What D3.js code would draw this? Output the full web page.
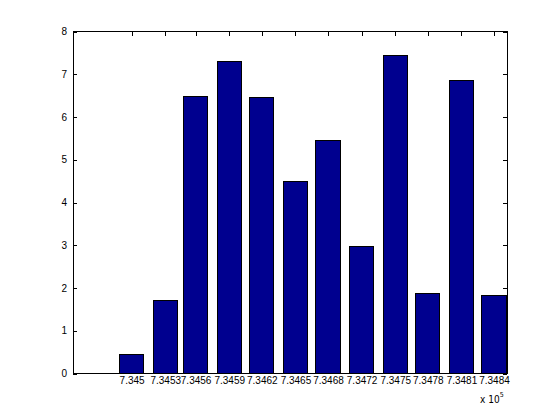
<!DOCTYPE html>
<html>
<head>
<meta charset="utf-8">
<script src="https://cdn.jsdelivr.net/npm/d3@7"></script>
<style>
  html, body { margin: 0; padding: 0; background: #fff; }
  svg { display: block; font-family: "Liberation Sans Narrow", "DejaVu Sans Condensed", "Liberation Sans", Arial, sans-serif; }
  .axis text { font-size: 10px; fill: #000; }
  .axis path { display: none; }
  .axis line { stroke: #000; shape-rendering: crispEdges; }
</style>
</head>
<body>
<div id="chart"></div>
<script>
// monthly datenums (1st of each month, 2011) and bar heights
const monthDates = [734504, 734535, 734563, 734594, 734624, 734655, 734685, 734716, 734747, 734777, 734808, 734838];
const counts = [0.44, 1.70, 6.49, 7.30, 6.46, 4.50, 5.46, 2.96, 7.45, 1.88, 6.86, 1.83];
const xTickLabels = [`7.345`, `7.3453`, `7.3456`, `7.3459`, `7.3462`, `7.3465`, `7.3468`, `7.3472`, `7.3475`, `7.3478`, `7.3481`, `7.3484`];
const yTicks = [0, 1, 2, 3, 4, 5, 6, 7, 8];
const xLimits = [734450, 734850];

const width = 560;
const height = 420;
const margin = {top: 31.5, right: 53, bottom: 46.5, left: 73};
const innerWidth = width - margin.left - margin.right;
const innerHeight = height - margin.top - margin.bottom;
const tickLen = 4;

const svg = d3.select(`#chart`)
  .append(`svg`)
    .attr(`width`, width)
    .attr(`height`, height);

const g = svg.append(`g`)
  .attr(`transform`, `translate(${margin.left},${margin.top})`);

const x = d3.scaleLinear()
  .domain(xLimits)
  .range([0, innerWidth]);

const y = d3.scaleLinear()
  .domain([0, 8])
  .range([innerHeight, 0]);

// bar width: 0.8 of the smallest gap between months
const gaps = d3.pairs(monthDates).map(([a, b]) => b - a);
const barDays = 0.8 * d3.min(gaps);

// axes (drawn under the bars)
g.append(`g`)
  .attr(`class`, `axis x-axis`)
  .attr(`transform`, `translate(0,${innerHeight})`)
  .call(d3.axisBottom(x)
    .tickValues(monthDates)
    .tickFormat((d, i) => xTickLabels[i])
    .tickSizeInner(-tickLen)
    .tickSizeOuter(0)
    .tickPadding(3));

g.append(`g`)
  .attr(`class`, `axis x-axis-top`)
  .call(d3.axisTop(x)
    .tickValues(monthDates)
    .tickFormat(``)
    .tickSizeInner(-tickLen)
    .tickSizeOuter(0));

g.append(`g`)
  .attr(`class`, `axis y-axis`)
  .call(d3.axisLeft(y)
    .tickValues(yTicks)
    .tickFormat(d3.format(`d`))
    .tickSizeInner(-tickLen)
    .tickSizeOuter(0)
    .tickPadding(6));

g.append(`g`)
  .attr(`class`, `axis y-axis-right`)
  .attr(`transform`, `translate(${innerWidth},0)`)
  .call(d3.axisRight(y)
    .tickValues(yTicks)
    .tickFormat(``)
    .tickSizeInner(-tickLen)
    .tickSizeOuter(0));

// box
g.append(`rect`)
  .attr(`x`, 0)
  .attr(`y`, 0)
  .attr(`width`, innerWidth)
  .attr(`height`, innerHeight)
  .attr(`fill`, `none`)
  .attr(`stroke`, `#000`)
  .attr(`shape-rendering`, `crispEdges`);

// bars
g.selectAll(`.bar`)
  .data(monthDates.map((d, i) => ({date: d, value: counts[i]})))
  .enter().append(`rect`)
    .attr(`class`, `bar`)
    .attr(`x`, d => x(d.date - barDays / 2))
    .attr(`y`, d => y(d.value))
    .attr(`width`, d => x(d.date + barDays / 2) - x(d.date - barDays / 2))
    .attr(`height`, d => innerHeight - y(d.value))
    .attr(`fill`, `#00008f`)
    .attr(`stroke`, `#000`)
    .attr(`stroke-width`, 1)
    .attr(`shape-rendering`, `crispEdges`);

// exponent label
const expo = svg.append(`text`)
  .attr(`x`, 480)
  .attr(`y`, 403)
  .attr(`font-size`, `10px`);
expo.append(`tspan`).text(`x 10`);
expo.append(`tspan`)
  .attr(`dy`, -6)
  .attr(`font-size`, `7px`)
  .text(`5`);
</script>
</body>
</html>
